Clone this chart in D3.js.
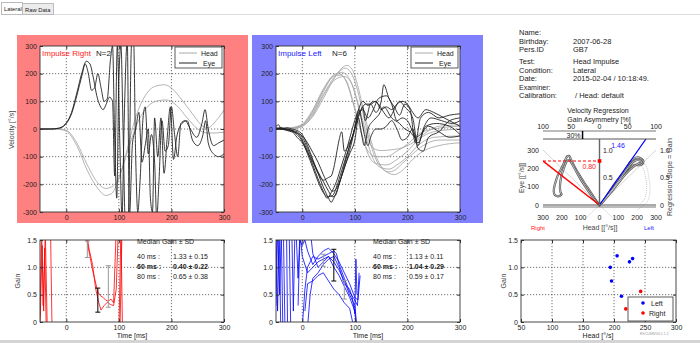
<!DOCTYPE html>
<html><head><meta charset="utf-8">
<script src="https://cdn.jsdelivr.net/npm/d3@7"></script>
<style>
body{margin:0;background:#fff;}
svg{display:block;font-family:"Liberation Sans",Arial,sans-serif;}
</style></head><body>
<svg id="c" width="700" height="343"></svg>
<script>
// ---------- data ----------
// Impulse Right: head (gray) and eye (black) velocity traces, [ms, °/s]
const rightHead = [
  [[-50,0],[-20,0],[0,-8],[20,-60],[40,-150],[60,-215],[75,-240],[85,-235],[100,-180],[115,-80],[130,30],[150,120],[170,155],[187,160],[200,148],[220,105],[240,55],[260,10],[270,5],[285,30],[300,68]],
  [[-50,0],[-20,0],[0,-5],[20,-50],[40,-130],[60,-195],[75,-215],[90,-205],[105,-150],[120,-60],[135,20],[150,70],[170,100],[190,105],[210,85],[230,40],[250,0],[270,-15],[300,-12]]
];
const rightEye = [
  [[-50,0],[-30,0],[-15,3],[-5,12],[0,22],[10,60],[20,130],[30,205],[38,245],[45,235],[52,180],[58,120],[64,85],[70,70],[76,90],[82,115],[88,100],[92,-170],[97,300],[102,-60],[106,-320],[110,20],[116,320],[120,-320],[126,-50],[132,0],[138,60],[144,-120],[150,-60],[156,0],[160,-250],[164,-300],[168,40],[174,-100],[180,40],[186,-160],[192,-30],[198,80],[204,-110],[210,-30],[220,20],[230,30],[240,-40],[250,-60],[260,-20],[265,30],[270,-50],[280,-90],[290,-100],[300,-90]],
  [[-50,0],[-30,0],[-15,2],[-5,10],[0,20],[10,55],[20,120],[30,195],[36,235],[42,200],[48,140],[54,150],[60,200],[66,150],[72,100],[78,110],[84,250],[88,300],[92,-30],[96,-250],[100,180],[104,300],[108,0],[112,-320],[118,-310],[124,300],[128,320],[132,-100],[136,-300],[140,-200],[146,40],[150,80],[156,-90],[162,-20],[168,-120],[172,-320],[176,-200],[182,30],[188,-80],[194,-60],[200,80],[206,-20],[212,-100],[218,20],[226,30],[236,0],[248,-30],[258,20],[264,70],[270,0],[280,-60],[290,-50],[300,-40]]
];
// Impulse Left: head (gray) and eye (black) velocity traces, [ms, °/s]
const leftHead = [
  [[-50,0],[-20,0],[0,10],[20,45],[40,110],[60,180],[75,220],[85,230],[95,215],[105,160],[115,80],[125,0],[135,-70],[150,-135],[165,-160],[175,-165],[190,-150],[210,-110],[230,-80],[260,-60],[300,-50]],
  [[-50,0],[-20,2],[0,12],[20,55],[40,125],[60,185],[75,215],[82,220],[95,195],[105,140],[115,60],[125,-20],[135,-85],[150,-140],[165,-155],[175,-150],[190,-125],[210,-90],[230,-60],[260,-40],[300,-40]],
  [[-50,0],[-20,3],[0,15],[20,60],[40,135],[60,195],[75,205],[90,180],[100,130],[110,55],[120,-20],[130,-85],[145,-135],[165,-145],[180,-130],[200,-100],[220,-60],[250,-30],[300,-25]],
  [[-50,0],[-20,5],[0,18],[20,70],[40,145],[60,195],[70,200],[85,170],[95,110],[105,40],[115,-30],[125,-90],[140,-125],[160,-130],[180,-110],[200,-80],[220,-40],[250,-10],[300,0]],
  [[-50,0],[-20,3],[0,14],[20,65],[40,140],[60,190],[72,195],[85,165],[95,105],[105,35],[115,-35],[125,-80],[140,-100],[160,-100],[180,-80],[200,-55],[220,-20],[250,0],[300,10]],
  [[-50,0],[-20,2],[0,10],[20,50],[40,120],[60,175],[80,190],[95,160],[105,100],[115,30],[125,-35],[135,-70],[150,-78],[170,-75],[190,-68],[210,-50],[230,-20],[260,10],[300,15]]
];
const leftEye = [
  [[-50,10],[-45,15],[-40,0],[-30,5],[-20,0],[-10,-5],[0,-20],[10,-60],[20,-110],[30,-160],[40,-210],[50,-250],[55,-265],[60,-250],[70,-200],[80,-130],[90,-60],[100,0],[110,60],[115,80],[120,30],[130,90],[140,60],[150,100],[155,160],[165,110],[175,80],[185,50],[195,90],[205,70],[215,-50],[225,40],[240,60],[260,40],[280,50],[300,55]],
  [[-50,5],[-40,0],[-30,-5],[-20,-10],[-10,-15],[0,-40],[10,-80],[20,-130],[30,-180],[40,-225],[47,-250],[55,-230],[65,-190],[75,-130],[85,-70],[95,0],[105,60],[115,100],[125,85],[135,100],[145,90],[155,60],[165,40],[175,70],[185,100],[195,80],[210,40],[220,-60],[230,0],[245,40],[265,30],[285,20],[300,30]],
  [[-50,0],[-40,5],[-30,0],[-20,-5],[-10,-20],[0,-45],[10,-90],[20,-140],[30,-190],[40,-230],[50,-245],[58,-240],[65,-210],[75,-150],[85,-90],[95,-30],[105,40],[115,70],[125,40],[135,70],[145,110],[160,120],[170,90],[180,30],[190,40],[200,30],[210,-10],[220,-50],[235,10],[255,20],[280,10],[300,-20]],
  [[-50,0],[-40,3],[-30,-3],[-20,-8],[-10,-30],[0,-50],[10,-85],[20,-120],[30,-160],[40,-185],[50,-175],[55,-170],[60,-140],[65,-90],[70,-40],[75,-10],[80,-80],[90,-50],[100,0],[108,70],[113,30],[118,-20],[125,-60],[130,-30],[140,0],[150,0],[160,10],[170,30],[180,0],[190,-40],[200,-30],[210,0],[220,-70],[230,-80],[240,-30],[260,-10],[280,30],[300,40]],
  [[-50,0],[-30,0],[-20,-5],[-10,-15],[0,-25],[10,-50],[20,-85],[30,-120],[40,-165],[50,-205],[57,-225],[65,-215],[75,-170],[85,-110],[95,-40],[105,50],[112,70],[120,90],[130,90],[140,100],[150,70],[160,80],[170,70],[180,90],[190,100],[200,90],[210,60],[220,40],[235,70],[250,60],[270,40],[300,10]],
  [[-50,0],[-30,-2],[-20,-5],[-10,-10],[0,-30],[10,-70],[20,-115],[30,-155],[40,-190],[50,-225],[57,-245],[63,-240],[70,-200],[80,-140],[90,-90],[100,-40],[107,40],[112,-10],[118,-60],[125,0],[135,30],[145,50],[155,80],[170,40],[185,20],[195,0],[205,-10],[215,-30],[225,-20],[240,10],[260,-10],[280,-30],[300,-25]]
];
// instantaneous gain traces, [ms, gain]; null marks a gap
const rightGain = [
  [[-50,0.1],[-47,1.7],[-43,0.2],[-40,1.7],[-36,-0.2],null,[35,1.7],[40,1.45],[45,1.2],[50,0.95],[55,0.75],[60,0.55],[65,0.48],[70,0.45],[75,0.4],[80,0.38],[85,0.42],[90,0.35],[95,1.7],null,[100,-0.2],[104,1.7],[107,-0.2]],
  [[-50,-0.1],[-46,1.4],[-44,0.3],[-41,1.35],[-38,-0.2],null,[-30,1.7],[-27,-0.2],null,[38,1.7],[43,1.35],[50,1.05],[56,0.6],[62,0.35],[66,0.22],[72,0.3],[78,0.36],[84,0.32],[90,0.3],[95,0.6],[99,1.7],null,[102,-0.2],[106,1.7]]
];
const leftGain = [
  [[-50,1.7],[-47,0.2],[-44,1.7],[-41,-0.1],null,[0,-0.1],[5,0.6],[10,1.0],[20,1.2],[30,1.15],[40,1.2],[50,1.25],[60,1.3],[65,1.25],[70,1.05],[80,0.8],[90,0.55],[100,0.4],[105,0.3],[108,0.9]],
  [[-50,0.3],[-47,1.7],[-43,0.5],[-40,1.7],[-37,-0.1],null,[-5,1.7],[0,1.2],[10,0.9],[20,1.0],[30,1.1],[40,1.15],[50,1.2],[60,1.1],[70,0.95],[80,0.75],[90,0.5],[100,0.3],[103,0.0]],
  [[-36,1.7],[-33,-0.1],null,[10,-0.1],[15,0.5],[20,0.8],[30,0.9],[40,1.05],[50,1.15],[60,1.2],[70,1.0],[80,0.7],[90,0.6],[95,0.45],[100,0.15],[102,1.15],[104,0.5]],
  [[-30,1.7],[-28,-0.1],null,[-20,1.7],[-17,0.2],[-14,1.7],null,[5,0.2],[10,0.7],[20,0.75],[30,0.85],[40,0.9],[50,0.75],[60,0.6],[70,0.5],[80,0.35],[90,0.25],[98,-0.1]],
  [[-12,1.7],[-8,0.8],[-5,1.5],[0,1.4],[5,1.5],[10,1.3],[20,1.05],[30,1.2],[40,1.3],[50,1.35],[60,1.25],[70,1.1],[80,0.9],[90,0.7],[100,0.45],[106,0.4],[110,0.85]],
  [[-25,1.7],[-22,-0.1],null,[-8,0.3],[-4,1.7],null,[15,1.7],[20,1.25],[30,1.0],[40,1.1],[50,1.2],[60,1.0],[70,0.85],[80,0.65],[90,0.45],[100,0.2],[103,-0.1]]
];
// median gain ± SD at 40 / 60 / 80 ms
const sampleMs = [40, 60, 80];
const rightMedian = [1.33, 0.40, 0.65];
const rightSD = [0.15, 0.22, 0.38];
const leftMedian = [1.13, 1.04, 0.59];
const leftSD = [0.11, 0.29, 0.17];
// per-impulse peak head velocity vs gain
const leftPeak = [194, 196, 205, 212, 225, 230];
const leftPeakGain = [1.00, 0.75, 1.21, 0.47, 1.10, 1.16];
const rightPeak = [219, 243];
const rightPeakGain = [0.24, 0.56];
// velocity regression: eye vs head trajectories [head °/s, eye °/s]
const regRight = [
  [[0,0],[-25,35],[-50,75],[-80,120],[-105,160],[-130,205],[-150,245],[-162,268],[-172,265],[-182,245],[-195,215],[-210,185],[-222,160],[-232,130],[-240,100],[-243,75],[-238,55],[-225,48],[-210,50],[-200,60]],
  [[0,0],[-20,20],[-45,55],[-75,100],[-100,140],[-125,185],[-145,222],[-160,245],[-172,240],[-182,220],[-193,190],[-202,160],[-208,125],[-210,95],[-207,70],[-200,55]]
];
const regLeft = [
  [[0,0],[23,27],[76,109],[130,182],[165,236],[192,258],[218,255],[233,236],[218,218],[183,218],[147,191],[112,145],[59,73],[14,15],[0,0]],
  [[0,0],[30,35],[80,100],[125,165],[160,215],[185,240],[210,245],[225,232],[205,225],[175,205],[140,170],[100,120],[50,55],[10,8]]
];
const regLeftFaint = [
  [[200,255],[245,218],[263,145],[268,73],[254,18],[230,-5],[200,-27]],
  [[180,235],[225,210],[245,150],[250,90],[240,35],[215,5]]
];
const gainRight = 0.80, gainLeft = 1.46, asymmetry = 30;

// ---------- drawing ----------
const svg = d3.select("#c");
const FONT = 7;

function plot(id, box, xd, yd, o) {
  const x = d3.scaleLinear().domain(xd).range([box.x0, box.x1]);
  const y = d3.scaleLinear().domain(yd).range([box.y1, box.y0]);
  const g = svg.append("g");
  g.append("rect").attr("x", box.x0).attr("y", box.y0)
    .attr("width", box.x1 - box.x0).attr("height", box.y1 - box.y0).attr("fill", "#fff");
  const grid = g.append("g").attr("stroke", "#333").attr("stroke-width", 0.7).attr("stroke-dasharray", "1.2,1.8");
  (o.xGrid || []).forEach(v => grid.append("line").attr("x1", x(v)).attr("x2", x(v)).attr("y1", box.y0).attr("y2", box.y1));
  (o.yGrid || []).forEach(v => grid.append("line").attr("y1", y(v)).attr("y2", y(v)).attr("x1", box.x0).attr("x2", box.x1));
  svg.append("clipPath").attr("id", id).append("rect").attr("x", box.x0).attr("y", box.y0)
    .attr("width", box.x1 - box.x0).attr("height", box.y1 - box.y0);
  const data = g.append("g").attr("clip-path", `url(#${id})`);
  const axes = g.append("g");
  const style = a => {
    a.select(".domain").remove();
    a.selectAll(".tick line").attr("stroke", "#333");
    a.selectAll(".tick text").attr("font-size", FONT).attr("fill", "#222").attr("font-family", null);
  };
  const fmt = o.fmt || {};
  axes.append("g").attr("transform", `translate(0,${box.y1})`)
    .call(d3.axisBottom(x).tickValues(o.xTicks).tickSize(-3).tickPadding(3).tickFormat(fmt.x || (d => d))).call(style);
  axes.append("g").attr("transform", `translate(0,${box.y0})`)
    .call(d3.axisTop(x).tickValues(o.xTicks).tickSize(-3).tickFormat("")).call(style);
  axes.append("g").attr("transform", `translate(${box.x0},0)`)
    .call(d3.axisLeft(y).tickValues(o.yTicks).tickSize(-3).tickPadding(3).tickFormat(fmt.y || (d => d))).call(style);
  axes.append("g").attr("transform", `translate(${box.x1},0)`)
    .call(d3.axisRight(y).tickValues(o.yTicks).tickSize(-3).tickFormat("")).call(style);
  axes.append("rect").attr("x", box.x0).attr("y", box.y0).attr("width", box.x1 - box.x0)
    .attr("height", box.y1 - box.y0).attr("fill", "none").attr("stroke", "#333").attr("stroke-width", 0.9);
  return {x, y, data, axes, g};
}

function text(s, x, y, o = {}) {
  const t = svg.append("text").attr("x", x).attr("y", y).text(s)
    .attr("font-size", o.size || FONT).attr("fill", o.fill || "#222")
    .attr("text-anchor", o.anchor || "start");
  if (o.bold) t.attr("font-weight", "bold");
  if (o.rot) t.attr("transform", `rotate(-90,${x},${y})`);
  return t;
}

// tabs
svg.append("rect").attr("x", 1.5).attr("y", 2.5).attr("width", 21).attr("height", 12).attr("fill", "#fff").attr("stroke", "#bbb");
svg.append("rect").attr("x", 22.5).attr("y", 3.5).attr("width", 31).attr("height", 11).attr("fill", "#ececec").attr("stroke", "#bbb");
svg.append("line").attr("x1", 54).attr("x2", 700).attr("y1", 14.5).attr("y2", 14.5).attr("stroke", "#ddd");
text("Lateral", 4, 11, {size: 5.8});
text("Raw Data", 25, 11.5, {size: 5.8});

// panel backgrounds
svg.append("rect").attr("x", 17).attr("y", 35).attr("width", 231).attr("height", 188).attr("fill", "#ff8080");
svg.append("rect").attr("x", 252).attr("y", 35).attr("width", 231).attr("height", 188).attr("fill", "#8080ff");

const velTicks = [-300, -200, -100, 0, 100, 200, 300];
const timeTicks = [0, 100, 200, 300];
const curve = d3.curveMonotoneX;

function velocityPanel(id, x0, head, eye, title, titleColor, n) {
  const p = plot(id, {x0, x1: x0 + 184, y0: 46, y1: 212}, [-50, 300], [-300, 300],
    {xTicks: timeTicks, yTicks: velTicks, xGrid: [0, 100, 200], yGrid: [-200, -100, 0, 100, 200]});
  const line = d3.line().x(d => p.x(d[0])).y(d => p.y(d[1])).curve(curve);
  head.forEach(s => p.data.append("path").attr("d", line(s)).attr("fill", "none").attr("stroke", "#aaa").attr("stroke-width", 0.9));
  eye.forEach(s => p.data.append("path").attr("d", line(s)).attr("fill", "none").attr("stroke", "#222").attr("stroke-width", 0.9));
  // legend
  const lx = x0 + 135, ly = 47;
  p.axes.append("rect").attr("x", lx).attr("y", ly).attr("width", 47).attr("height", 21).attr("fill", "#fff").attr("stroke", "#333").attr("stroke-width", 0.8);
  p.axes.append("line").attr("x1", lx + 4).attr("x2", lx + 22).attr("y1", ly + 6).attr("y2", ly + 6).attr("stroke", "#aaa").attr("stroke-width", 1);
  p.axes.append("line").attr("x1", lx + 4).attr("x2", lx + 22).attr("y1", ly + 16).attr("y2", ly + 16).attr("stroke", "#222").attr("stroke-width", 1);
  text("Head", lx + 26, ly + 8.5);
  text("Eye", lx + 28, ly + 18.5);
  text(title, x0 + 2, 55.5, {size: 8, fill: titleColor});
  text(n, x0 + 56, 55.5, {size: 8});
  return p;
}
velocityPanel("cv1", 40, rightHead, rightEye, "Impulse Right", "#ff2020", "N=2");
velocityPanel("cv2", 276, leftHead, leftEye, "Impulse Left", "#2020ff", "N=6");
text("Velocity [°/s]", 14, 130, {rot: true, anchor: "middle", fill: "#444"});

// gain panels
const gainFmt = {y: d => d === 0 ? "0" : d.toFixed(1)};
function gainPanel(id, x0, traces, color, med, sd, showLabel) {
  const p = plot(id, {x0, x1: x0 + 184, y0: 240, y1: 322}, [-50, 300], [0, 1.5],
    {xTicks: timeTicks, yTicks: [0, 0.5, 1, 1.5], xGrid: [0, 100, 200], yGrid: [0.5, 1.0], fmt: gainFmt});
  const line = d3.line().defined(d => d !== null).x(d => p.x(d[0])).y(d => p.y(d[1]));
  traces.forEach(s => p.data.append("path").attr("d", line(s)).attr("fill", "none").attr("stroke", color).attr("stroke-width", 0.8));
  sampleMs.forEach((t, i) => {
    const c = i === 1 ? "#000" : "#999";
    const lo = p.y(med[i] - sd[i]), hi = p.y(med[i] + sd[i]), xx = p.x(t);
    const b = p.data.append("g").attr("stroke", c).attr("stroke-width", 1);
    b.append("line").attr("x1", xx).attr("x2", xx).attr("y1", lo).attr("y2", hi);
    b.append("line").attr("x1", xx - 2.5).attr("x2", xx + 2.5).attr("y1", lo).attr("y2", lo);
    b.append("line").attr("x1", xx - 2.5).attr("x2", xx + 2.5).attr("y1", hi).attr("y2", hi);
  });
  const tx = x0 + 97, vx = x0 + 133;
  text("Median Gain ± SD", tx, 244);
  sampleMs.forEach((t, i) => {
    const yy = 259 + i * 10;
    text(`${t} ms :`, tx, yy, {bold: i === 1});
    text(`${med[i].toFixed(2)} ± ${sd[i].toFixed(2)}`, vx, yy, {bold: i === 1});
  });
  text("Time [ms]", x0 + 92, 338, {anchor: "middle"});
  if (showLabel) text("Gain", 20, 281, {rot: true, anchor: "middle", fill: "#444"});
  return p;
}
gainPanel("cg1", 40, rightGain, "#ff0000", rightMedian, rightSD, true);
gainPanel("cg2", 276, leftGain, "#0000ff", leftMedian, leftSD, false);

// peak velocity vs gain scatter
const sp = plot("cs", {x0: 521, x1: 676, y0: 240, y1: 322}, [50, 300], [0, 1.5],
  {xTicks: [50, 100, 150, 200, 250, 300], yTicks: [0, 0.5, 1, 1.5], xGrid: [100, 150, 200, 250], yGrid: [0.5, 1.0], fmt: gainFmt});
sp.data.selectAll(".l").data(leftPeak).join("circle").attr("cx", d => sp.x(d)).attr("cy", (d, i) => sp.y(leftPeakGain[i])).attr("r", 1.8).attr("fill", "#0000ff");
sp.data.selectAll(".r").data(rightPeak).join("circle").attr("cx", d => sp.x(d)).attr("cy", (d, i) => sp.y(rightPeakGain[i])).attr("r", 1.8).attr("fill", "#ff0000");
sp.axes.append("rect").attr("x", 628).attr("y", 297).attr("width", 45).attr("height", 24).attr("fill", "#fff").attr("stroke", "#333").attr("stroke-width", 0.8);
sp.axes.append("circle").attr("cx", 643).attr("cy", 303).attr("r", 1.8).attr("fill", "#0000ff");
sp.axes.append("circle").attr("cx", 643).attr("cy", 313).attr("r", 1.8).attr("fill", "#ff0000");
text("Left", 651, 305.5);
text("Right", 649, 315.5);
text("Gain", 506, 281, {rot: true, anchor: "middle", fill: "#444"});
text("Head [°/s]", 598, 338, {anchor: "middle"});
text("ESCU88V00.1.1.1", 640, 335, {size: 3.5, fill: "#999"});

// header info
const infoKeys = ["Name:", "Birthday:", "Pers.ID", "Test:", "Condition:", "Date:", "Examiner:", "Calibration:"];
const infoVals = ["", "2007-06-28", "GB7", "Head Impulse", "Lateral", "2015-02-04 / 10:18:49.", "", " / Head: default"];
const infoY = [35, 43.5, 52, 64, 72.5, 81, 90, 97.5];
infoKeys.forEach((k, i) => {
  text(k, 519, infoY[i], {size: i === 6 ? 7 : 7.5});
  if (infoVals[i]) text(infoVals[i], infoVals[i].startsWith(" ") ? 575 : 573, infoY[i], {size: 7.5});
});

// velocity regression
const rb = {x0: 543, x1: 656, y0: 139, y1: 207};
const rx = d3.scaleLinear().domain([-300, 300]).range([rb.x0, rb.x1]);
const ry = d3.scaleLinear().domain([0, 300]).range([205, 150]);
const rg = d3.scaleLinear().domain([0, 1]).range([205, 150]);
const ra = d3.scaleLinear().domain([-100, 100]).range([rb.x0, rb.x1]);
svg.append("clipPath").attr("id", "cr").append("rect").attr("x", rb.x0).attr("y", rb.y0).attr("width", rb.x1 - rb.x0).attr("height", rb.y1 - rb.y0 + 12);
const rData = svg.append("g").attr("clip-path", "url(#cr)");
// unity gain reference
rData.append("path").attr("d", d3.line().x(d => rx(d)).y(d => ry(Math.abs(d)))([-300, 0, 300]))
  .attr("fill", "none").attr("stroke", "#d0d0d0").attr("stroke-width", 0.9);
rData.append("path").attr("d", d3.line().x(d => rx(d)).y(d => ry(-Math.abs(d)))([-300, 0, 300]))
  .attr("fill", "none").attr("stroke", "#e0e0e0").attr("stroke-width", 0.9);
const rl = d3.line().x(d => rx(d[0])).y(d => ry(d[1])).curve(d3.curveCatmullRom);
regLeftFaint.forEach(s => rData.append("path").attr("d", rl(s)).attr("fill", "none").attr("stroke", "#bbb").attr("stroke-width", 0.8).attr("stroke-dasharray", "1,1"));
[...regRight, ...regLeft].forEach(s => {
  rData.append("path").attr("d", rl(s)).attr("fill", "none").attr("stroke", "#555").attr("stroke-width", 2.2);
  rData.append("path").attr("d", rl(s)).attr("fill", "none").attr("stroke", "#ddd").attr("stroke-width", 0.8);
});
// regression slopes
rData.append("line").attr("x1", rx(0)).attr("y1", ry(0)).attr("x2", rx(-300)).attr("y2", ry(300 * gainRight)).attr("stroke", "#ff0000").attr("stroke-width", 1.5);
rData.append("line").attr("x1", rx(0)).attr("y1", ry(0)).attr("x2", rx(300)).attr("y2", ry(300 * gainLeft)).attr("stroke", "#0000ff").attr("stroke-width", 1.2);
rData.append("line").attr("x1", rx(-300)).attr("x2", rx(0)).attr("y1", rg(gainRight)).attr("y2", rg(gainRight))
  .attr("stroke", "#ff0000").attr("stroke-width", 1).attr("stroke-dasharray", "3,2");
// frame lines and centre axis
svg.append("line").attr("x1", rb.x0).attr("x2", rb.x1).attr("y1", 131).attr("y2", 131).attr("stroke", "#555").attr("stroke-width", 0.8);
svg.append("line").attr("x1", rb.x0).attr("x2", rb.x1).attr("y1", rb.y0).attr("y2", rb.y0).attr("stroke", "#555").attr("stroke-width", 1.2);
svg.append("line").attr("x1", rb.x0).attr("x2", rb.x1).attr("y1", ry(0)).attr("y2", ry(0)).attr("stroke", "#555").attr("stroke-width", 1.2);
svg.append("line").attr("x1", rb.x0).attr("x2", rb.x1).attr("y1", rb.y1).attr("y2", rb.y1).attr("stroke", "#555").attr("stroke-width", 0.8);
svg.append("line").attr("x1", rx(0)).attr("x2", rx(0)).attr("y1", rb.y0).attr("y2", rb.y1).attr("stroke", "#666").attr("stroke-width", 1.4);
svg.append("rect").attr("x", rx(0) - 1.8).attr("y", rg(gainRight) - 1.8).attr("width", 3.6).attr("height", 3.6).attr("fill", "#ff0000");
// asymmetry marker
svg.append("line").attr("x1", ra(-asymmetry)).attr("x2", ra(-asymmetry)).attr("y1", 131).attr("y2", 139).attr("stroke", "#000").attr("stroke-width", 1.5);
text(`${asymmetry}%`, ra(-asymmetry) - 2, 137.5, {anchor: "end"});
text(gainRight.toFixed(2), 596, 168.5, {anchor: "end", fill: "#ff2020"});
text(gainLeft.toFixed(2), 618, 148, {anchor: "middle", fill: "#2020ff"});
// tick labels
[-100, -50, 0, 50, 100].forEach(v => text(Math.abs(v), ra(v), 129, {anchor: "middle"}));
[-300, -200, -100, 0, 100, 200, 300].forEach(v => text(Math.abs(v), rx(v), 219.5, {anchor: "middle"}));
[0, 100, 200, 300].forEach(v => text(v, 539, ry(v) + 2.5, {anchor: "end"}));
[0, 0.5, 1].forEach(v => text(v === 0 ? "0" : v.toFixed(1), 660, rg(v) + 2.5));
[0.5, 1].forEach(v => text(v.toFixed(1), 603, rg(v) + 2.5));
text("Velocity Regression", 598, 113, {anchor: "middle"});
text("Gain Asymmetry [%]", 599, 121.5, {anchor: "middle"});
text("Head [[°/s]]", 600, 229.5, {anchor: "middle", fill: "#444"});
text("Right", 538, 229.5, {anchor: "middle", fill: "#ff2020", size: 6});
text("Left", 649, 229.5, {anchor: "middle", fill: "#2020ff", size: 6});
text("Eye [[°/s]]", 524, 178, {rot: true, anchor: "middle", fill: "#444"});
text("Regression Slope = Gain", 672, 177, {rot: true, anchor: "middle", fill: "#444"});

// window bottom strip
svg.append("rect").attr("x", 0).attr("y", 340).attr("width", 700).attr("height", 3).attr("fill", "#d4d4d4");
</script>
</body></html>
